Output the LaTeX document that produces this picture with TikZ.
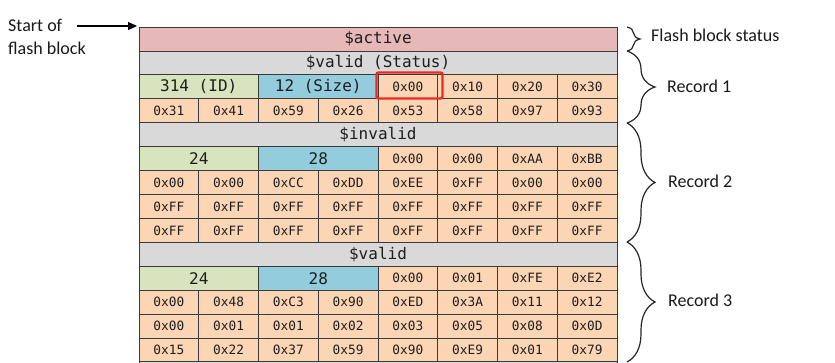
\documentclass[tikz,border=0pt]{standalone}
\usepackage{fontspec}
\setmainfont{Carlito}
\newfontfamily\monof{DejaVu Sans Mono}
\usetikzlibrary{decorations.pathreplacing,arrows.meta}
\definecolor{cpink}{HTML}{E6B9B8}
\definecolor{cgray}{HTML}{D9D9D9}
\definecolor{cgreen}{HTML}{D7E4BD}
\definecolor{cblue}{HTML}{93CDDD}
\definecolor{corange}{HTML}{FCD5B5}
\definecolor{cborder}{HTML}{3A3A3A}
\definecolor{ctext}{HTML}{1E1E1E}
\definecolor{cred}{HTML}{EE2A1E}
\newcommand\hexrow[3]{%
  \foreach \v [count=\c from #2] in {#3} {
    \node[hexcell] (r#1c\c) at ({139+(\c-1)*59.75},{27+#1*23.93}) {\v};
  }}
\begin{document}
\begin{tikzpicture}[x=1pt,y=-1pt,
  cell/.style={draw=cborder, line width=0.8pt, anchor=north west, minimum height=23.93pt,
    inner sep=0pt, outer sep=0pt, text=ctext},
  hexcell/.style={cell, fill=corange, minimum width=59.75pt, font=\monof\fontsize{12.8}{13}\selectfont},
  widecell/.style={cell, minimum width=478pt, font=\monof\fontsize{16}{16}\selectfont},
  idcell/.style={cell, fill=cgreen, minimum width=119.5pt, font=\monof\fontsize{16}{16}\selectfont},
  sizecell/.style={cell, fill=cblue, minimum width=119.5pt, font=\monof\fontsize{16}{16}\selectfont},
  lbl/.style={anchor=west, inner sep=0pt, font=\fontsize{18}{20}\selectfont, text=black!90},
  brc/.style={decorate, decoration={brace, amplitude=#1}, line width=1.2pt, black!85},
]
\useasboundingbox (0,0) rectangle (835,363);
% row 0,1
\node[widecell, fill=cpink] (r0) at (139,27) {\$active};
\node[widecell, fill=cgray] (r1) at (139,{27+1*23.93}) {\$valid (Status)};
% record 1
\node[idcell] (r2id) at (139,{27+2*23.93}) {314 (ID)};
\node[sizecell] (r2size) at (258.5,{27+2*23.93}) {12 (Size)};
\hexrow{2}{5}{0x00,0x10,0x20,0x30}
\hexrow{3}{1}{0x31,0x41,0x59,0x26,0x53,0x58,0x97,0x93}
% record 2
\node[widecell, fill=cgray] (r4) at (139,{27+4*23.93}) {\$invalid};
\node[idcell] (r5id) at (139,{27+5*23.93}) {24};
\node[sizecell] (r5size) at (258.5,{27+5*23.93}) {28};
\hexrow{5}{5}{0x00,0x00,0xAA,0xBB}
\hexrow{6}{1}{0x00,0x00,0xCC,0xDD,0xEE,0xFF,0x00,0x00}
\hexrow{7}{1}{0xFF,0xFF,0xFF,0xFF,0xFF,0xFF,0xFF,0xFF}
\hexrow{8}{1}{0xFF,0xFF,0xFF,0xFF,0xFF,0xFF,0xFF,0xFF}
% record 3
\node[widecell, fill=cgray] (r9) at (139,{27+9*23.93}) {\$valid};
\node[idcell] (r10id) at (139,{27+10*23.93}) {24};
\node[sizecell] (r10size) at (258.5,{27+10*23.93}) {28};
\hexrow{10}{5}{0x00,0x01,0xFE,0xE2}
\hexrow{11}{1}{0x00,0x48,0xC3,0x90,0xED,0x3A,0x11,0x12}
\hexrow{12}{1}{0x00,0x01,0x01,0x02,0x03,0x05,0x08,0x0D}
\hexrow{13}{1}{0x15,0x22,0x37,0x59,0x90,0xE9,0x01,0x79}
\node[widecell, fill=cgray] (r14) at (139,{27+14*23.93-1}) {};
% red highlight
\draw[cred, line width=2.4pt, rounded corners=2pt] (376.5,72.5) rectangle (442.5,98.5);
% start arrow
\node[lbl] (s1) at (8,25) {Start of};
\node[lbl] (s2) at (8,48) {flash block};
\coordinate (blockstart) at (137,26);
\draw[line width=1.4pt, -{Triangle[length=9pt,width=8pt]}] ([xshift=15pt,yshift=-1pt]s1.east) -- (blockstart);
% braces
\coordinate (b0t) at (627,27);  \coordinate (b0b) at (627,51);
\coordinate (b1t) at (627,51);  \coordinate (b1b) at (627,123);
\coordinate (b2t) at (627,123); \coordinate (b2b) at (627,242);
\coordinate (b3t) at (627,242); \coordinate (b3b) at (627,362);
\draw[brc=13pt] (b0t) -- (b0b);
\draw[brc=28pt] (b1t) -- (b1b);
\draw[brc=28pt] (b2t) -- (b2b);
\draw[brc=28pt] (b3t) -- (b3b);
\node[lbl] (lstatus) at (651,35) {Flash block status};
\node[lbl] (lrec1) at (667,86) {Record 1};
\node[lbl] (lrec2) at (668,181) {Record 2};
\node[lbl] (lrec3) at (668,300) {Record 3};
\end{tikzpicture}
\end{document}
